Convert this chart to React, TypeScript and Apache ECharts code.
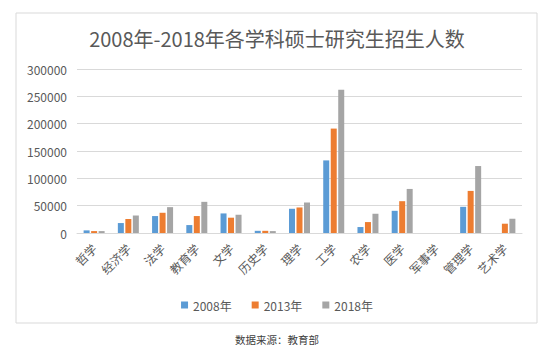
import React, { useEffect, useRef } from "react";
import * as echarts from "echarts";

const categories = ["哲学", "经济学", "法学", "教育学", "文学", "历史学", "理学", "工学", "农学", "医学", "军事学", "管理学", "艺术学"];
const seriesNames = ["2008年", "2013年", "2018年"];
const values2008 = [4800, 18200, 31000, 14500, 35800, 4000, 44300, 132800, 10900, 40600, null, 47900, null];
const values2013 = [3500, 25500, 37000, 31000, 28000, 4000, 46700, 191000, 20000, 58200, null, 77000, 17000];
const values2018 = [3500, 32000, 47300, 57000, 33400, 3500, 55800, 262000, 35200, 80600, null, 122500, 26100];
const colors = ["#5B9BD5", "#ED7D31", "#A5A5A5"];
const titleText = "2008年-2018年各学科硕士研究生招生人数";
const sourceText = "数据来源：教育部";

export default function App() {
  const ref = useRef<HTMLDivElement>(null);
  useEffect(() => {
    if (!ref.current) return;
    const chart = echarts.init(ref.current, null, { renderer: "svg" });
    const font = "'Noto Sans CJK SC', 'Noto Sans', sans-serif";
    const data = [values2008, values2013, values2018];
    chart.setOption({
      animation: false,
      textStyle: { fontFamily: font },
      title: {
        text: titleText,
        left: "center",
        top: 23,
        textStyle: { fontSize: 20, fontWeight: "normal", color: "#595959", fontFamily: font },
      },
      legend: {
        data: seriesNames,
        bottom: 40,
        left: "center",
        icon: "rect",
        itemWidth: 7,
        itemHeight: 7,
        itemGap: 20,
        textStyle: { fontSize: 12, color: "#595959", fontFamily: font },
      },
      grid: { left: 77, right: 32, top: 69, bottom: 123, containLabel: false },
      xAxis: {
        type: "category",
        data: categories,
        axisLine: { show: true, lineStyle: { color: "#D9D9D9" } },
        axisTick: { show: false },
        axisLabel: { rotate: 45, fontSize: 12, color: "#595959", margin: 13, interval: 0, fontFamily: font },
      },
      yAxis: {
        type: "value",
        min: 0,
        max: 300000,
        interval: 50000,
        axisLine: { show: false },
        axisTick: { show: false },
        splitLine: { lineStyle: { color: "#D9D9D9" } },
        axisLabel: { fontSize: 12, color: "#595959", margin: 10, fontFamily: font, formatter: (v: number) => String(v) },
      },
      graphic: [
        {
          type: "rect",
          shape: { x: 16, y: 13, width: 521, height: 310 },
          style: { fill: "none", stroke: "#D9D9D9", lineWidth: 1 },
          silent: true,
          z: -1,
        },
        {
          type: "text",
          left: 235,
          top: 334,
          style: { text: sourceText, fontSize: 10.5, fill: "#404040", fontFamily: font },
        },
      ],
      series: seriesNames.map((name, i) => ({
        name,
        type: "bar",
        data: data[i],
        barWidth: 6,
        barGap: "25%",
        itemStyle: { color: colors[i] },
      })),
    });
    return () => chart.dispose();
  }, []);
  return <div ref={ref} style={{ position: "fixed", left: 0, top: 0, width: 554, height: 356, background: "#fff" }} />;
}
